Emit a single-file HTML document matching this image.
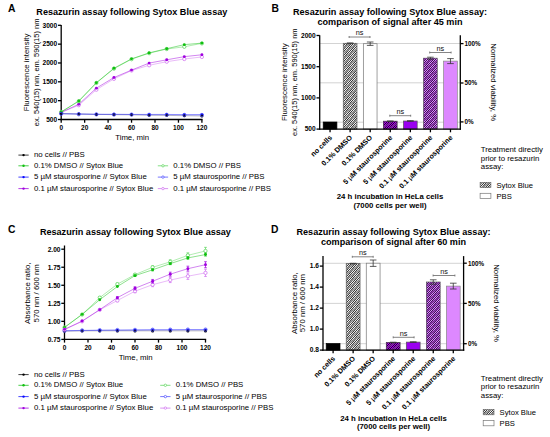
<!DOCTYPE html>
<html><head><meta charset="utf-8"><style>
html,body{margin:0;padding:0;background:#fff;}
body{width:550px;height:437px;overflow:hidden;}
svg{display:block;}
text{font-family:"Liberation Sans", sans-serif;}
</style></head><body>
<svg width="550" height="437" viewBox="0 0 550 437" font-family='"Liberation Sans", sans-serif'>
<defs><pattern id="hg" patternUnits="userSpaceOnUse" x="0" y="0" width="2" height="2"><rect width="2" height="2" fill="#f0f0f0"/><rect width="1" height="1" fill="#3a3a3a"/><rect x="1" y="1" width="1" height="1" fill="#3a3a3a"/></pattern><pattern id="hp" patternUnits="userSpaceOnUse" x="0" y="0" width="2" height="2"><rect width="2" height="2" fill="#a800ee"/><rect width="1" height="1" fill="#2a0038"/><rect x="1" y="1" width="1" height="1" fill="#2a0038"/></pattern><pattern id="hl" patternUnits="userSpaceOnUse" x="0" y="0" width="2" height="2"><rect width="2" height="2" fill="#dc88ff"/><rect width="1" height="1" fill="#3c1450"/><rect x="1" y="1" width="1" height="1" fill="#3c1450"/></pattern><pattern id="stripe" patternUnits="userSpaceOnUse" width="4.2" height="4.2" patternTransform="rotate(-34)"><rect width="4.2" height="1.7" fill="#8c8c8c" fill-opacity="0.9"/></pattern><pattern id="stripeD" patternUnits="userSpaceOnUse" width="4.2" height="4.2" patternTransform="rotate(-34)"><rect width="4.2" height="1.7" fill="#7a2a9a" fill-opacity="0.8"/></pattern></defs>
<rect width="550" height="437" fill="#fff"/>
<line x1="61.20" y1="25.00" x2="61.20" y2="120.15" stroke="#000" stroke-width="1.3"/>
<line x1="60.55" y1="119.50" x2="202.55" y2="119.50" stroke="#000" stroke-width="1.3"/>
<line x1="58.00" y1="119.50" x2="61.20" y2="119.50" stroke="#000" stroke-width="1.3"/>
<text x="57.20" y="121.85" font-size="6.6" font-weight="bold" text-anchor="end" fill="#000">500</text>
<line x1="58.00" y1="100.66" x2="61.20" y2="100.66" stroke="#000" stroke-width="1.3"/>
<text x="57.20" y="103.01" font-size="6.6" font-weight="bold" text-anchor="end" fill="#000">1000</text>
<line x1="58.00" y1="81.82" x2="61.20" y2="81.82" stroke="#000" stroke-width="1.3"/>
<text x="57.20" y="84.17" font-size="6.6" font-weight="bold" text-anchor="end" fill="#000">1500</text>
<line x1="58.00" y1="62.98" x2="61.20" y2="62.98" stroke="#000" stroke-width="1.3"/>
<text x="57.20" y="65.33" font-size="6.6" font-weight="bold" text-anchor="end" fill="#000">2000</text>
<line x1="58.00" y1="44.14" x2="61.20" y2="44.14" stroke="#000" stroke-width="1.3"/>
<text x="57.20" y="46.49" font-size="6.6" font-weight="bold" text-anchor="end" fill="#000">2500</text>
<line x1="58.00" y1="25.30" x2="61.20" y2="25.30" stroke="#000" stroke-width="1.3"/>
<text x="57.20" y="27.65" font-size="6.6" font-weight="bold" text-anchor="end" fill="#000">3000</text>
<line x1="61.20" y1="119.50" x2="61.20" y2="122.70" stroke="#000" stroke-width="1.3"/>
<text x="61.20" y="129.90" font-size="6.5" font-weight="bold" text-anchor="middle" fill="#000">0</text>
<line x1="84.65" y1="119.50" x2="84.65" y2="122.70" stroke="#000" stroke-width="1.3"/>
<text x="84.65" y="129.90" font-size="6.5" font-weight="bold" text-anchor="middle" fill="#000">20</text>
<line x1="108.10" y1="119.50" x2="108.10" y2="122.70" stroke="#000" stroke-width="1.3"/>
<text x="108.10" y="129.90" font-size="6.5" font-weight="bold" text-anchor="middle" fill="#000">40</text>
<line x1="131.55" y1="119.50" x2="131.55" y2="122.70" stroke="#000" stroke-width="1.3"/>
<text x="131.55" y="129.90" font-size="6.5" font-weight="bold" text-anchor="middle" fill="#000">60</text>
<line x1="155.00" y1="119.50" x2="155.00" y2="122.70" stroke="#000" stroke-width="1.3"/>
<text x="155.00" y="129.90" font-size="6.5" font-weight="bold" text-anchor="middle" fill="#000">80</text>
<line x1="178.45" y1="119.50" x2="178.45" y2="122.70" stroke="#000" stroke-width="1.3"/>
<text x="178.45" y="129.90" font-size="6.5" font-weight="bold" text-anchor="middle" fill="#000">100</text>
<line x1="201.90" y1="119.50" x2="201.90" y2="122.70" stroke="#000" stroke-width="1.3"/>
<text x="201.90" y="129.90" font-size="6.5" font-weight="bold" text-anchor="middle" fill="#000">120</text>
<path d="M61.20,112.53 L78.79,105.18 L96.38,89.73 L113.96,78.84 L131.55,70.52 L149.14,65.28 L166.72,61.70 L184.31,59.02 L201.90,56.95" fill="none" stroke="#d070f0" stroke-width="0.8" stroke-opacity="0.6" stroke-linejoin="round"/>
<circle cx="61.20" cy="112.53" r="1.65" fill="#fff" stroke="#d070f0" stroke-width="0.75"/>
<circle cx="78.79" cy="105.18" r="1.65" fill="#fff" stroke="#d070f0" stroke-width="0.75"/>
<circle cx="96.38" cy="89.73" r="1.65" fill="#fff" stroke="#d070f0" stroke-width="0.75"/>
<circle cx="113.96" cy="78.84" r="1.65" fill="#fff" stroke="#d070f0" stroke-width="0.75"/>
<circle cx="131.55" cy="70.52" r="1.65" fill="#fff" stroke="#d070f0" stroke-width="0.75"/>
<circle cx="149.14" cy="65.28" r="1.65" fill="#fff" stroke="#d070f0" stroke-width="0.75"/>
<circle cx="166.72" cy="61.70" r="1.65" fill="#fff" stroke="#d070f0" stroke-width="0.75"/>
<circle cx="184.31" cy="59.02" r="1.65" fill="#fff" stroke="#d070f0" stroke-width="0.75"/>
<circle cx="201.90" cy="56.95" r="1.65" fill="#fff" stroke="#d070f0" stroke-width="0.75"/>
<path d="M61.20,112.27 L78.79,104.31 L96.38,88.15 L113.96,77.56 L131.55,70.10 L149.14,63.09 L166.72,59.81 L184.31,56.65 L201.90,54.77" fill="none" stroke="#a000e0" stroke-width="0.8" stroke-opacity="0.6" stroke-linejoin="round"/>
<circle cx="61.20" cy="112.27" r="1.45" fill="#a000e0"/>
<circle cx="78.79" cy="104.31" r="1.45" fill="#a000e0"/>
<circle cx="96.38" cy="88.15" r="1.45" fill="#a000e0"/>
<circle cx="113.96" cy="77.56" r="1.45" fill="#a000e0"/>
<circle cx="131.55" cy="70.10" r="1.45" fill="#a000e0"/>
<circle cx="149.14" cy="63.09" r="1.45" fill="#a000e0"/>
<circle cx="166.72" cy="59.81" r="1.45" fill="#a000e0"/>
<circle cx="184.31" cy="56.65" r="1.45" fill="#a000e0"/>
<circle cx="201.90" cy="54.77" r="1.45" fill="#a000e0"/>
<path d="M61.20,111.96 L78.79,101.23 L96.38,82.95 L113.96,68.63 L131.55,59.21 L149.14,53.18 L166.72,49.04 L184.31,46.78 L201.90,43.39" fill="none" stroke="#5cd65c" stroke-width="0.8" stroke-opacity="0.6" stroke-linejoin="round"/>
<circle cx="61.20" cy="111.96" r="1.65" fill="#fff" stroke="#5cd65c" stroke-width="0.75"/>
<circle cx="78.79" cy="101.23" r="1.65" fill="#fff" stroke="#5cd65c" stroke-width="0.75"/>
<circle cx="96.38" cy="82.95" r="1.65" fill="#fff" stroke="#5cd65c" stroke-width="0.75"/>
<circle cx="113.96" cy="68.63" r="1.65" fill="#fff" stroke="#5cd65c" stroke-width="0.75"/>
<circle cx="131.55" cy="59.21" r="1.65" fill="#fff" stroke="#5cd65c" stroke-width="0.75"/>
<circle cx="149.14" cy="53.18" r="1.65" fill="#fff" stroke="#5cd65c" stroke-width="0.75"/>
<circle cx="166.72" cy="49.04" r="1.65" fill="#fff" stroke="#5cd65c" stroke-width="0.75"/>
<circle cx="184.31" cy="46.78" r="1.65" fill="#fff" stroke="#5cd65c" stroke-width="0.75"/>
<circle cx="201.90" cy="43.39" r="1.65" fill="#fff" stroke="#5cd65c" stroke-width="0.75"/>
<path d="M61.20,111.96 L78.79,100.96 L96.38,82.72 L113.96,68.26 L131.55,58.84 L149.14,52.88 L166.72,48.70 L184.31,44.63 L201.90,43.12" fill="none" stroke="#10c010" stroke-width="0.8" stroke-opacity="0.6" stroke-linejoin="round"/>
<circle cx="61.20" cy="111.96" r="1.45" fill="#10c010"/>
<circle cx="78.79" cy="100.96" r="1.45" fill="#10c010"/>
<circle cx="96.38" cy="82.72" r="1.45" fill="#10c010"/>
<circle cx="113.96" cy="68.26" r="1.45" fill="#10c010"/>
<circle cx="131.55" cy="58.84" r="1.45" fill="#10c010"/>
<circle cx="149.14" cy="52.88" r="1.45" fill="#10c010"/>
<circle cx="166.72" cy="48.70" r="1.45" fill="#10c010"/>
<circle cx="184.31" cy="44.63" r="1.45" fill="#10c010"/>
<circle cx="201.90" cy="43.12" r="1.45" fill="#10c010"/>
<path d="M61.20,113.47 L78.79,113.85 L96.38,114.22 L113.96,114.22 L131.55,114.41 L149.14,114.41 L166.72,114.41 L184.31,114.60 L201.90,114.60" fill="none" stroke="#0a0aff" stroke-width="0.8" stroke-opacity="0.45" stroke-linejoin="round"/>
<circle cx="61.20" cy="113.47" r="1.45" fill="#0a0aff"/>
<circle cx="78.79" cy="113.85" r="1.45" fill="#0a0aff"/>
<circle cx="96.38" cy="114.22" r="1.45" fill="#0a0aff"/>
<circle cx="113.96" cy="114.22" r="1.45" fill="#0a0aff"/>
<circle cx="131.55" cy="114.41" r="1.45" fill="#0a0aff"/>
<circle cx="149.14" cy="114.41" r="1.45" fill="#0a0aff"/>
<circle cx="166.72" cy="114.41" r="1.45" fill="#0a0aff"/>
<circle cx="184.31" cy="114.60" r="1.45" fill="#0a0aff"/>
<circle cx="201.90" cy="114.60" r="1.45" fill="#0a0aff"/>
<path d="M61.20,113.66 L78.79,114.04 L96.38,114.41 L113.96,114.60 L131.55,114.79 L149.14,115.17 L166.72,115.36 L184.31,115.73 L201.90,116.00" fill="none" stroke="#000" stroke-width="0.8" stroke-opacity="0.3" stroke-linejoin="round"/>
<circle cx="61.20" cy="113.66" r="1.5" fill="#000"/>
<circle cx="78.79" cy="114.04" r="1.5" fill="#000"/>
<circle cx="96.38" cy="114.41" r="1.5" fill="#000"/>
<circle cx="113.96" cy="114.60" r="1.5" fill="#000"/>
<circle cx="131.55" cy="114.79" r="1.5" fill="#000"/>
<circle cx="149.14" cy="115.17" r="1.5" fill="#000"/>
<circle cx="166.72" cy="115.36" r="1.5" fill="#000"/>
<circle cx="184.31" cy="115.73" r="1.5" fill="#000"/>
<circle cx="201.90" cy="116.00" r="1.5" fill="#000"/>
<path d="M61.20,113.85 L78.79,114.22 L96.38,114.41 L113.96,114.60 L131.55,114.60 L149.14,114.79 L166.72,114.79 L184.31,114.98 L201.90,114.98" fill="none" stroke="#4a4aff" stroke-width="0.8" stroke-opacity="0.6" stroke-linejoin="round"/>
<circle cx="61.20" cy="113.85" r="1.65" fill="none" stroke="#4a4aff" stroke-width="0.75"/>
<circle cx="78.79" cy="114.22" r="1.65" fill="none" stroke="#4a4aff" stroke-width="0.75"/>
<circle cx="96.38" cy="114.41" r="1.65" fill="none" stroke="#4a4aff" stroke-width="0.75"/>
<circle cx="113.96" cy="114.60" r="1.65" fill="none" stroke="#4a4aff" stroke-width="0.75"/>
<circle cx="131.55" cy="114.60" r="1.65" fill="none" stroke="#4a4aff" stroke-width="0.75"/>
<circle cx="149.14" cy="114.79" r="1.65" fill="none" stroke="#4a4aff" stroke-width="0.75"/>
<circle cx="166.72" cy="114.79" r="1.65" fill="none" stroke="#4a4aff" stroke-width="0.75"/>
<circle cx="184.31" cy="114.98" r="1.65" fill="none" stroke="#4a4aff" stroke-width="0.75"/>
<circle cx="201.90" cy="114.98" r="1.65" fill="none" stroke="#4a4aff" stroke-width="0.75"/>
<text x="132.15" y="139.60" font-size="7.8" font-weight="normal" text-anchor="middle" fill="#000">Time, min</text>
<text x="29.00" y="72.40" font-size="7.8" font-weight="normal" text-anchor="middle" fill="#000" transform="rotate(-90 29.0 72.4)">Fluorescence intensity</text>
<text x="38.60" y="72.40" font-size="7.5" font-weight="normal" text-anchor="middle" fill="#000" transform="rotate(-90 38.6 72.4)">ex. 540(15) nm, em. 590(15) nm</text>
<text x="131.85" y="14.50" font-size="9.1" font-weight="bold" text-anchor="middle" fill="#000">Resazurin assay following Sytox Blue assay</text>
<text x="8.00" y="11.80" font-size="10.3" font-weight="bold" text-anchor="start" fill="#000">A</text>
<line x1="18.40" y1="155.10" x2="28.70" y2="155.10" stroke="#000" stroke-width="1.0" opacity="0.75"/>
<circle cx="23.55" cy="155.10" r="1.2" fill="#000"/>
<text x="33.90" y="157.20" font-size="7.8" font-weight="normal" text-anchor="start" fill="#000">no cells // PBS</text>
<line x1="18.40" y1="165.80" x2="28.70" y2="165.80" stroke="#10c010" stroke-width="1.0" opacity="0.75"/>
<circle cx="23.55" cy="165.80" r="1.2" fill="#10c010"/>
<text x="33.90" y="167.90" font-size="7.8" font-weight="normal" text-anchor="start" fill="#000">0.1% DMSO // Sytox Blue</text>
<line x1="18.40" y1="177.10" x2="28.70" y2="177.10" stroke="#0a0aff" stroke-width="1.0" opacity="0.75"/>
<circle cx="23.55" cy="177.10" r="1.2" fill="#0a0aff"/>
<text x="33.90" y="179.20" font-size="7.8" font-weight="normal" text-anchor="start" fill="#000">5 µM staurosporine // Sytox Blue</text>
<line x1="18.40" y1="188.60" x2="28.70" y2="188.60" stroke="#a000e0" stroke-width="1.0" opacity="0.75"/>
<circle cx="23.55" cy="188.60" r="1.2" fill="#a000e0"/>
<text x="33.90" y="190.70" font-size="7.8" font-weight="normal" text-anchor="start" fill="#000">0.1 µM staurosporine // Sytox Blue</text>
<line x1="157.80" y1="165.80" x2="168.10" y2="165.80" stroke="#5cd65c" stroke-width="1.0" opacity="0.75"/>
<circle cx="162.95" cy="165.80" r="1.2" fill="#fff" stroke="#5cd65c" stroke-width="0.7"/>
<text x="173.30" y="167.90" font-size="7.8" font-weight="normal" text-anchor="start" fill="#000">0.1% DMSO // PBS</text>
<line x1="157.80" y1="177.10" x2="168.10" y2="177.10" stroke="#4a4aff" stroke-width="1.0" opacity="0.75"/>
<circle cx="162.95" cy="177.10" r="1.2" fill="#fff" stroke="#4a4aff" stroke-width="0.7"/>
<text x="173.30" y="179.20" font-size="7.8" font-weight="normal" text-anchor="start" fill="#000">5 µM staurosporine // PBS</text>
<line x1="157.80" y1="188.60" x2="168.10" y2="188.60" stroke="#d070f0" stroke-width="1.0" opacity="0.75"/>
<circle cx="162.95" cy="188.60" r="1.2" fill="#fff" stroke="#d070f0" stroke-width="0.7"/>
<text x="173.30" y="190.70" font-size="7.8" font-weight="normal" text-anchor="start" fill="#000">0.1 µM staurosporine // PBS</text>
<line x1="64.50" y1="245.50" x2="64.50" y2="340.05" stroke="#000" stroke-width="1.3"/>
<line x1="63.85" y1="339.40" x2="206.15" y2="339.40" stroke="#000" stroke-width="1.3"/>
<line x1="61.30" y1="339.40" x2="64.50" y2="339.40" stroke="#000" stroke-width="1.3"/>
<text x="60.50" y="341.75" font-size="6.6" font-weight="bold" text-anchor="end" fill="#000">0.75</text>
<line x1="61.30" y1="321.36" x2="64.50" y2="321.36" stroke="#000" stroke-width="1.3"/>
<text x="60.50" y="323.71" font-size="6.6" font-weight="bold" text-anchor="end" fill="#000">1.00</text>
<line x1="61.30" y1="303.32" x2="64.50" y2="303.32" stroke="#000" stroke-width="1.3"/>
<text x="60.50" y="305.67" font-size="6.6" font-weight="bold" text-anchor="end" fill="#000">1.25</text>
<line x1="61.30" y1="285.28" x2="64.50" y2="285.28" stroke="#000" stroke-width="1.3"/>
<text x="60.50" y="287.63" font-size="6.6" font-weight="bold" text-anchor="end" fill="#000">1.50</text>
<line x1="61.30" y1="267.24" x2="64.50" y2="267.24" stroke="#000" stroke-width="1.3"/>
<text x="60.50" y="269.59" font-size="6.6" font-weight="bold" text-anchor="end" fill="#000">1.75</text>
<line x1="61.30" y1="249.20" x2="64.50" y2="249.20" stroke="#000" stroke-width="1.3"/>
<text x="60.50" y="251.55" font-size="6.6" font-weight="bold" text-anchor="end" fill="#000">2.00</text>
<line x1="64.50" y1="339.40" x2="64.50" y2="342.60" stroke="#000" stroke-width="1.3"/>
<text x="64.50" y="349.80" font-size="6.5" font-weight="bold" text-anchor="middle" fill="#000">0</text>
<line x1="88.00" y1="339.40" x2="88.00" y2="342.60" stroke="#000" stroke-width="1.3"/>
<text x="88.00" y="349.80" font-size="6.5" font-weight="bold" text-anchor="middle" fill="#000">20</text>
<line x1="111.50" y1="339.40" x2="111.50" y2="342.60" stroke="#000" stroke-width="1.3"/>
<text x="111.50" y="349.80" font-size="6.5" font-weight="bold" text-anchor="middle" fill="#000">40</text>
<line x1="135.00" y1="339.40" x2="135.00" y2="342.60" stroke="#000" stroke-width="1.3"/>
<text x="135.00" y="349.80" font-size="6.5" font-weight="bold" text-anchor="middle" fill="#000">60</text>
<line x1="158.50" y1="339.40" x2="158.50" y2="342.60" stroke="#000" stroke-width="1.3"/>
<text x="158.50" y="349.80" font-size="6.5" font-weight="bold" text-anchor="middle" fill="#000">80</text>
<line x1="182.00" y1="339.40" x2="182.00" y2="342.60" stroke="#000" stroke-width="1.3"/>
<text x="182.00" y="349.80" font-size="6.5" font-weight="bold" text-anchor="middle" fill="#000">100</text>
<line x1="205.50" y1="339.40" x2="205.50" y2="342.60" stroke="#000" stroke-width="1.3"/>
<text x="205.50" y="349.80" font-size="6.5" font-weight="bold" text-anchor="middle" fill="#000">120</text>
<path d="M64.50,330.89 L82.12,330.60 L99.75,330.38 L117.38,330.31 L135.00,330.16 L152.62,330.02 L170.25,330.02 L187.88,329.87 L205.50,329.87" fill="none" stroke="#0a0aff" stroke-width="0.8" stroke-opacity="0.45" stroke-linejoin="round"/>
<circle cx="64.50" cy="330.89" r="1.45" fill="#0a0aff"/>
<circle cx="82.12" cy="330.60" r="1.45" fill="#0a0aff"/>
<circle cx="99.75" cy="330.38" r="1.45" fill="#0a0aff"/>
<circle cx="117.38" cy="330.31" r="1.45" fill="#0a0aff"/>
<circle cx="135.00" cy="330.16" r="1.45" fill="#0a0aff"/>
<circle cx="152.62" cy="330.02" r="1.45" fill="#0a0aff"/>
<circle cx="170.25" cy="330.02" r="1.45" fill="#0a0aff"/>
<circle cx="187.88" cy="329.87" r="1.45" fill="#0a0aff"/>
<circle cx="205.50" cy="329.87" r="1.45" fill="#0a0aff"/>
<path d="M64.50,331.10 L82.12,330.89 L99.75,330.89 L117.38,330.89 L135.00,330.89 L152.62,330.89 L170.25,330.89 L187.88,330.89 L205.50,330.89" fill="none" stroke="#000" stroke-width="0.8" stroke-opacity="0.3" stroke-linejoin="round"/>
<circle cx="64.50" cy="331.10" r="1.5" fill="#000"/>
<circle cx="82.12" cy="330.89" r="1.5" fill="#000"/>
<circle cx="99.75" cy="330.89" r="1.5" fill="#000"/>
<circle cx="117.38" cy="330.89" r="1.5" fill="#000"/>
<circle cx="135.00" cy="330.89" r="1.5" fill="#000"/>
<circle cx="152.62" cy="330.89" r="1.5" fill="#000"/>
<circle cx="170.25" cy="330.89" r="1.5" fill="#000"/>
<circle cx="187.88" cy="330.89" r="1.5" fill="#000"/>
<circle cx="205.50" cy="330.89" r="1.5" fill="#000"/>
<path d="M64.50,330.74 L82.12,330.38 L99.75,330.16 L117.38,330.02 L135.00,329.87 L152.62,329.73 L170.25,329.66 L187.88,329.59 L205.50,329.59" fill="none" stroke="#4a4aff" stroke-width="0.8" stroke-opacity="0.6" stroke-linejoin="round"/>
<circle cx="64.50" cy="330.74" r="1.65" fill="none" stroke="#4a4aff" stroke-width="0.75"/>
<circle cx="82.12" cy="330.38" r="1.65" fill="none" stroke="#4a4aff" stroke-width="0.75"/>
<circle cx="99.75" cy="330.16" r="1.65" fill="none" stroke="#4a4aff" stroke-width="0.75"/>
<circle cx="117.38" cy="330.02" r="1.65" fill="none" stroke="#4a4aff" stroke-width="0.75"/>
<circle cx="135.00" cy="329.87" r="1.65" fill="none" stroke="#4a4aff" stroke-width="0.75"/>
<circle cx="152.62" cy="329.73" r="1.65" fill="none" stroke="#4a4aff" stroke-width="0.75"/>
<circle cx="170.25" cy="329.66" r="1.65" fill="none" stroke="#4a4aff" stroke-width="0.75"/>
<circle cx="187.88" cy="329.59" r="1.65" fill="none" stroke="#4a4aff" stroke-width="0.75"/>
<circle cx="205.50" cy="329.59" r="1.65" fill="none" stroke="#4a4aff" stroke-width="0.75"/>
<path d="M64.50,327.49 L82.12,314.50 L99.75,297.62 L117.38,284.13 L135.00,274.60 L152.62,267.31 L170.25,261.83 L187.88,255.33 L205.50,250.93" fill="none" stroke="#5cd65c" stroke-width="0.8" stroke-opacity="0.6" stroke-linejoin="round"/>
<line x1="99.75" y1="296.82" x2="99.75" y2="298.42" stroke="#5cd65c" stroke-width="0.7"/>
<line x1="98.35" y1="296.82" x2="101.15" y2="296.82" stroke="#5cd65c" stroke-width="0.7"/>
<line x1="98.35" y1="298.42" x2="101.15" y2="298.42" stroke="#5cd65c" stroke-width="0.7"/>
<line x1="117.38" y1="283.13" x2="117.38" y2="285.13" stroke="#5cd65c" stroke-width="0.7"/>
<line x1="115.97" y1="283.13" x2="118.78" y2="283.13" stroke="#5cd65c" stroke-width="0.7"/>
<line x1="115.97" y1="285.13" x2="118.78" y2="285.13" stroke="#5cd65c" stroke-width="0.7"/>
<line x1="135.00" y1="273.60" x2="135.00" y2="275.60" stroke="#5cd65c" stroke-width="0.7"/>
<line x1="133.60" y1="273.60" x2="136.40" y2="273.60" stroke="#5cd65c" stroke-width="0.7"/>
<line x1="133.60" y1="275.60" x2="136.40" y2="275.60" stroke="#5cd65c" stroke-width="0.7"/>
<line x1="152.62" y1="265.81" x2="152.62" y2="268.81" stroke="#5cd65c" stroke-width="0.7"/>
<line x1="151.22" y1="265.81" x2="154.03" y2="265.81" stroke="#5cd65c" stroke-width="0.7"/>
<line x1="151.22" y1="268.81" x2="154.03" y2="268.81" stroke="#5cd65c" stroke-width="0.7"/>
<line x1="170.25" y1="259.83" x2="170.25" y2="263.83" stroke="#5cd65c" stroke-width="0.7"/>
<line x1="168.85" y1="259.83" x2="171.65" y2="259.83" stroke="#5cd65c" stroke-width="0.7"/>
<line x1="168.85" y1="263.83" x2="171.65" y2="263.83" stroke="#5cd65c" stroke-width="0.7"/>
<line x1="187.88" y1="252.83" x2="187.88" y2="257.83" stroke="#5cd65c" stroke-width="0.7"/>
<line x1="186.47" y1="252.83" x2="189.28" y2="252.83" stroke="#5cd65c" stroke-width="0.7"/>
<line x1="186.47" y1="257.83" x2="189.28" y2="257.83" stroke="#5cd65c" stroke-width="0.7"/>
<line x1="205.50" y1="247.33" x2="205.50" y2="254.53" stroke="#5cd65c" stroke-width="0.7"/>
<line x1="204.10" y1="247.33" x2="206.90" y2="247.33" stroke="#5cd65c" stroke-width="0.7"/>
<line x1="204.10" y1="254.53" x2="206.90" y2="254.53" stroke="#5cd65c" stroke-width="0.7"/>
<circle cx="64.50" cy="327.49" r="1.65" fill="#fff" stroke="#5cd65c" stroke-width="0.75"/>
<circle cx="82.12" cy="314.50" r="1.65" fill="#fff" stroke="#5cd65c" stroke-width="0.75"/>
<circle cx="99.75" cy="297.62" r="1.65" fill="#fff" stroke="#5cd65c" stroke-width="0.75"/>
<circle cx="117.38" cy="284.13" r="1.65" fill="#fff" stroke="#5cd65c" stroke-width="0.75"/>
<circle cx="135.00" cy="274.60" r="1.65" fill="#fff" stroke="#5cd65c" stroke-width="0.75"/>
<circle cx="152.62" cy="267.31" r="1.65" fill="#fff" stroke="#5cd65c" stroke-width="0.75"/>
<circle cx="170.25" cy="261.83" r="1.65" fill="#fff" stroke="#5cd65c" stroke-width="0.75"/>
<circle cx="187.88" cy="255.33" r="1.65" fill="#fff" stroke="#5cd65c" stroke-width="0.75"/>
<circle cx="205.50" cy="250.93" r="1.65" fill="#fff" stroke="#5cd65c" stroke-width="0.75"/>
<path d="M64.50,327.35 L82.12,314.36 L99.75,299.71 L117.38,286.51 L135.00,275.61 L152.62,269.84 L170.25,263.63 L187.88,257.93 L205.50,254.54" fill="none" stroke="#10c010" stroke-width="0.8" stroke-opacity="0.6" stroke-linejoin="round"/>
<line x1="135.00" y1="274.81" x2="135.00" y2="276.41" stroke="#10c010" stroke-width="0.7"/>
<line x1="133.60" y1="274.81" x2="136.40" y2="274.81" stroke="#10c010" stroke-width="0.7"/>
<line x1="133.60" y1="276.41" x2="136.40" y2="276.41" stroke="#10c010" stroke-width="0.7"/>
<line x1="152.62" y1="268.84" x2="152.62" y2="270.84" stroke="#10c010" stroke-width="0.7"/>
<line x1="151.22" y1="268.84" x2="154.03" y2="268.84" stroke="#10c010" stroke-width="0.7"/>
<line x1="151.22" y1="270.84" x2="154.03" y2="270.84" stroke="#10c010" stroke-width="0.7"/>
<line x1="170.25" y1="262.63" x2="170.25" y2="264.63" stroke="#10c010" stroke-width="0.7"/>
<line x1="168.85" y1="262.63" x2="171.65" y2="262.63" stroke="#10c010" stroke-width="0.7"/>
<line x1="168.85" y1="264.63" x2="171.65" y2="264.63" stroke="#10c010" stroke-width="0.7"/>
<line x1="187.88" y1="256.73" x2="187.88" y2="259.13" stroke="#10c010" stroke-width="0.7"/>
<line x1="186.47" y1="256.73" x2="189.28" y2="256.73" stroke="#10c010" stroke-width="0.7"/>
<line x1="186.47" y1="259.13" x2="189.28" y2="259.13" stroke="#10c010" stroke-width="0.7"/>
<line x1="205.50" y1="253.04" x2="205.50" y2="256.04" stroke="#10c010" stroke-width="0.7"/>
<line x1="204.10" y1="253.04" x2="206.90" y2="253.04" stroke="#10c010" stroke-width="0.7"/>
<line x1="204.10" y1="256.04" x2="206.90" y2="256.04" stroke="#10c010" stroke-width="0.7"/>
<circle cx="64.50" cy="327.35" r="1.45" fill="#10c010"/>
<circle cx="82.12" cy="314.36" r="1.45" fill="#10c010"/>
<circle cx="99.75" cy="299.71" r="1.45" fill="#10c010"/>
<circle cx="117.38" cy="286.51" r="1.45" fill="#10c010"/>
<circle cx="135.00" cy="275.61" r="1.45" fill="#10c010"/>
<circle cx="152.62" cy="269.84" r="1.45" fill="#10c010"/>
<circle cx="170.25" cy="263.63" r="1.45" fill="#10c010"/>
<circle cx="187.88" cy="257.93" r="1.45" fill="#10c010"/>
<circle cx="205.50" cy="254.54" r="1.45" fill="#10c010"/>
<path d="M64.50,329.66 L82.12,321.36 L99.75,309.81 L117.38,300.51 L135.00,291.20 L152.62,284.70 L170.25,280.08 L187.88,276.19 L205.50,272.87" fill="none" stroke="#d070f0" stroke-width="0.8" stroke-opacity="0.6" stroke-linejoin="round"/>
<line x1="99.75" y1="309.01" x2="99.75" y2="310.61" stroke="#d070f0" stroke-width="0.7"/>
<line x1="98.35" y1="309.01" x2="101.15" y2="309.01" stroke="#d070f0" stroke-width="0.7"/>
<line x1="98.35" y1="310.61" x2="101.15" y2="310.61" stroke="#d070f0" stroke-width="0.7"/>
<line x1="117.38" y1="299.31" x2="117.38" y2="301.71" stroke="#d070f0" stroke-width="0.7"/>
<line x1="115.97" y1="299.31" x2="118.78" y2="299.31" stroke="#d070f0" stroke-width="0.7"/>
<line x1="115.97" y1="301.71" x2="118.78" y2="301.71" stroke="#d070f0" stroke-width="0.7"/>
<line x1="135.00" y1="289.70" x2="135.00" y2="292.70" stroke="#d070f0" stroke-width="0.7"/>
<line x1="133.60" y1="289.70" x2="136.40" y2="289.70" stroke="#d070f0" stroke-width="0.7"/>
<line x1="133.60" y1="292.70" x2="136.40" y2="292.70" stroke="#d070f0" stroke-width="0.7"/>
<line x1="152.62" y1="282.70" x2="152.62" y2="286.70" stroke="#d070f0" stroke-width="0.7"/>
<line x1="151.22" y1="282.70" x2="154.03" y2="282.70" stroke="#d070f0" stroke-width="0.7"/>
<line x1="151.22" y1="286.70" x2="154.03" y2="286.70" stroke="#d070f0" stroke-width="0.7"/>
<line x1="170.25" y1="277.58" x2="170.25" y2="282.58" stroke="#d070f0" stroke-width="0.7"/>
<line x1="168.85" y1="277.58" x2="171.65" y2="277.58" stroke="#d070f0" stroke-width="0.7"/>
<line x1="168.85" y1="282.58" x2="171.65" y2="282.58" stroke="#d070f0" stroke-width="0.7"/>
<line x1="187.88" y1="272.99" x2="187.88" y2="279.39" stroke="#d070f0" stroke-width="0.7"/>
<line x1="186.47" y1="272.99" x2="189.28" y2="272.99" stroke="#d070f0" stroke-width="0.7"/>
<line x1="186.47" y1="279.39" x2="189.28" y2="279.39" stroke="#d070f0" stroke-width="0.7"/>
<line x1="205.50" y1="269.27" x2="205.50" y2="276.47" stroke="#d070f0" stroke-width="0.7"/>
<line x1="204.10" y1="269.27" x2="206.90" y2="269.27" stroke="#d070f0" stroke-width="0.7"/>
<line x1="204.10" y1="276.47" x2="206.90" y2="276.47" stroke="#d070f0" stroke-width="0.7"/>
<circle cx="64.50" cy="329.66" r="1.65" fill="#fff" stroke="#d070f0" stroke-width="0.75"/>
<circle cx="82.12" cy="321.36" r="1.65" fill="#fff" stroke="#d070f0" stroke-width="0.75"/>
<circle cx="99.75" cy="309.81" r="1.65" fill="#fff" stroke="#d070f0" stroke-width="0.75"/>
<circle cx="117.38" cy="300.51" r="1.65" fill="#fff" stroke="#d070f0" stroke-width="0.75"/>
<circle cx="135.00" cy="291.20" r="1.65" fill="#fff" stroke="#d070f0" stroke-width="0.75"/>
<circle cx="152.62" cy="284.70" r="1.65" fill="#fff" stroke="#d070f0" stroke-width="0.75"/>
<circle cx="170.25" cy="280.08" r="1.65" fill="#fff" stroke="#d070f0" stroke-width="0.75"/>
<circle cx="187.88" cy="276.19" r="1.65" fill="#fff" stroke="#d070f0" stroke-width="0.75"/>
<circle cx="205.50" cy="272.87" r="1.65" fill="#fff" stroke="#d070f0" stroke-width="0.75"/>
<path d="M64.50,329.37 L82.12,321.07 L99.75,309.67 L117.38,297.69 L135.00,288.31 L152.62,281.24 L170.25,274.17 L187.88,268.68 L205.50,264.71" fill="none" stroke="#a000e0" stroke-width="0.8" stroke-opacity="0.6" stroke-linejoin="round"/>
<line x1="117.38" y1="296.69" x2="117.38" y2="298.69" stroke="#a000e0" stroke-width="0.7"/>
<line x1="115.97" y1="296.69" x2="118.78" y2="296.69" stroke="#a000e0" stroke-width="0.7"/>
<line x1="115.97" y1="298.69" x2="118.78" y2="298.69" stroke="#a000e0" stroke-width="0.7"/>
<line x1="135.00" y1="286.81" x2="135.00" y2="289.81" stroke="#a000e0" stroke-width="0.7"/>
<line x1="133.60" y1="286.81" x2="136.40" y2="286.81" stroke="#a000e0" stroke-width="0.7"/>
<line x1="133.60" y1="289.81" x2="136.40" y2="289.81" stroke="#a000e0" stroke-width="0.7"/>
<line x1="152.62" y1="279.44" x2="152.62" y2="283.04" stroke="#a000e0" stroke-width="0.7"/>
<line x1="151.22" y1="279.44" x2="154.03" y2="279.44" stroke="#a000e0" stroke-width="0.7"/>
<line x1="151.22" y1="283.04" x2="154.03" y2="283.04" stroke="#a000e0" stroke-width="0.7"/>
<line x1="170.25" y1="272.17" x2="170.25" y2="276.17" stroke="#a000e0" stroke-width="0.7"/>
<line x1="168.85" y1="272.17" x2="171.65" y2="272.17" stroke="#a000e0" stroke-width="0.7"/>
<line x1="168.85" y1="276.17" x2="171.65" y2="276.17" stroke="#a000e0" stroke-width="0.7"/>
<line x1="187.88" y1="266.18" x2="187.88" y2="271.18" stroke="#a000e0" stroke-width="0.7"/>
<line x1="186.47" y1="266.18" x2="189.28" y2="266.18" stroke="#a000e0" stroke-width="0.7"/>
<line x1="186.47" y1="271.18" x2="189.28" y2="271.18" stroke="#a000e0" stroke-width="0.7"/>
<line x1="205.50" y1="261.71" x2="205.50" y2="267.71" stroke="#a000e0" stroke-width="0.7"/>
<line x1="204.10" y1="261.71" x2="206.90" y2="261.71" stroke="#a000e0" stroke-width="0.7"/>
<line x1="204.10" y1="267.71" x2="206.90" y2="267.71" stroke="#a000e0" stroke-width="0.7"/>
<circle cx="64.50" cy="329.37" r="1.45" fill="#a000e0"/>
<circle cx="82.12" cy="321.07" r="1.45" fill="#a000e0"/>
<circle cx="99.75" cy="309.67" r="1.45" fill="#a000e0"/>
<circle cx="117.38" cy="297.69" r="1.45" fill="#a000e0"/>
<circle cx="135.00" cy="288.31" r="1.45" fill="#a000e0"/>
<circle cx="152.62" cy="281.24" r="1.45" fill="#a000e0"/>
<circle cx="170.25" cy="274.17" r="1.45" fill="#a000e0"/>
<circle cx="187.88" cy="268.68" r="1.45" fill="#a000e0"/>
<circle cx="205.50" cy="264.71" r="1.45" fill="#a000e0"/>
<text x="135.60" y="359.80" font-size="7.8" font-weight="normal" text-anchor="middle" fill="#000">Time, min</text>
<text x="30.00" y="293.30" font-size="7.85" font-weight="normal" text-anchor="middle" fill="#000" transform="rotate(-90 30.0 293.3)">Absorbance ratio,</text>
<text x="39.00" y="293.30" font-size="7.75" font-weight="normal" text-anchor="middle" fill="#000" transform="rotate(-90 39.0 293.3)">570 nm / 600 nm</text>
<text x="135.40" y="234.60" font-size="9.1" font-weight="bold" text-anchor="middle" fill="#000">Resazurin assay following Sytox Blue assay</text>
<text x="8.00" y="232.80" font-size="10.3" font-weight="bold" text-anchor="start" fill="#000">C</text>
<line x1="18.40" y1="374.60" x2="28.70" y2="374.60" stroke="#000" stroke-width="1.0" opacity="0.75"/>
<circle cx="23.55" cy="374.60" r="1.2" fill="#000"/>
<text x="33.90" y="376.70" font-size="7.8" font-weight="normal" text-anchor="start" fill="#000">no cells // PBS</text>
<line x1="18.40" y1="385.30" x2="28.70" y2="385.30" stroke="#10c010" stroke-width="1.0" opacity="0.75"/>
<circle cx="23.55" cy="385.30" r="1.2" fill="#10c010"/>
<text x="33.90" y="387.40" font-size="7.8" font-weight="normal" text-anchor="start" fill="#000">0.1% DMSO // Sytox Blue</text>
<line x1="18.40" y1="396.60" x2="28.70" y2="396.60" stroke="#0a0aff" stroke-width="1.0" opacity="0.75"/>
<circle cx="23.55" cy="396.60" r="1.2" fill="#0a0aff"/>
<text x="33.90" y="398.70" font-size="7.8" font-weight="normal" text-anchor="start" fill="#000">5 µM staurosporine // Sytox Blue</text>
<line x1="18.40" y1="408.10" x2="28.70" y2="408.10" stroke="#a000e0" stroke-width="1.0" opacity="0.75"/>
<circle cx="23.55" cy="408.10" r="1.2" fill="#a000e0"/>
<text x="33.90" y="410.20" font-size="7.8" font-weight="normal" text-anchor="start" fill="#000">0.1 µM staurosporine // Sytox Blue</text>
<line x1="160.20" y1="385.30" x2="170.50" y2="385.30" stroke="#5cd65c" stroke-width="1.0" opacity="0.75"/>
<circle cx="165.35" cy="385.30" r="1.2" fill="#fff" stroke="#5cd65c" stroke-width="0.7"/>
<text x="175.70" y="387.40" font-size="7.8" font-weight="normal" text-anchor="start" fill="#000">0.1% DMSO // PBS</text>
<line x1="160.20" y1="396.60" x2="170.50" y2="396.60" stroke="#4a4aff" stroke-width="1.0" opacity="0.75"/>
<circle cx="165.35" cy="396.60" r="1.2" fill="#fff" stroke="#4a4aff" stroke-width="0.7"/>
<text x="175.70" y="398.70" font-size="7.8" font-weight="normal" text-anchor="start" fill="#000">5 µM staurosporine // PBS</text>
<line x1="160.20" y1="408.10" x2="170.50" y2="408.10" stroke="#d070f0" stroke-width="1.0" opacity="0.75"/>
<circle cx="165.35" cy="408.10" r="1.2" fill="#fff" stroke="#d070f0" stroke-width="0.7"/>
<text x="175.70" y="410.20" font-size="7.8" font-weight="normal" text-anchor="start" fill="#000">0.1 µM staurosporine // PBS</text>
<line x1="319.70" y1="43.50" x2="460.30" y2="43.50" stroke="#c8c8c8" stroke-width="0.8"/>
<line x1="319.70" y1="82.80" x2="460.30" y2="82.80" stroke="#c8c8c8" stroke-width="0.8"/>
<line x1="319.70" y1="122.20" x2="460.30" y2="122.20" stroke="#c8c8c8" stroke-width="0.8"/>
<rect x="323.20" y="122.00" width="13.70" height="7.10" fill="#000" stroke="#000" stroke-width="0.7"/>
<rect x="343.27" y="43.30" width="13.70" height="85.80" fill="url(#hg)" stroke="#555" stroke-width="0.7"/>
<rect x="343.27" y="43.30" width="13.70" height="85.80" fill="url(#stripe)"/>
<line x1="350.12" y1="42.90" x2="350.12" y2="43.70" stroke="#333" stroke-width="0.8"/>
<line x1="346.82" y1="42.90" x2="353.42" y2="42.90" stroke="#333" stroke-width="0.8"/>
<line x1="346.82" y1="43.70" x2="353.42" y2="43.70" stroke="#333" stroke-width="0.8"/>
<rect x="363.34" y="43.70" width="13.70" height="85.40" fill="#fff" stroke="#777" stroke-width="0.7"/>
<line x1="370.19" y1="42.00" x2="370.19" y2="45.40" stroke="#333" stroke-width="0.8"/>
<line x1="366.89" y1="42.00" x2="373.49" y2="42.00" stroke="#333" stroke-width="0.8"/>
<line x1="366.89" y1="45.40" x2="373.49" y2="45.40" stroke="#333" stroke-width="0.8"/>
<rect x="383.41" y="121.20" width="13.70" height="7.90" fill="url(#hp)" stroke="#333" stroke-width="0.7"/>
<rect x="383.41" y="121.20" width="13.70" height="7.90" fill="url(#stripeD)"/>
<line x1="390.26" y1="120.90" x2="390.26" y2="121.50" stroke="#333" stroke-width="0.8"/>
<line x1="386.96" y1="120.90" x2="393.56" y2="120.90" stroke="#333" stroke-width="0.8"/>
<line x1="386.96" y1="121.50" x2="393.56" y2="121.50" stroke="#333" stroke-width="0.8"/>
<rect x="403.48" y="121.00" width="13.70" height="8.10" fill="#9a00f0" stroke="#555" stroke-width="0.7"/>
<line x1="410.33" y1="120.70" x2="410.33" y2="121.30" stroke="#333" stroke-width="0.8"/>
<line x1="407.03" y1="120.70" x2="413.63" y2="120.70" stroke="#333" stroke-width="0.8"/>
<line x1="407.03" y1="121.30" x2="413.63" y2="121.30" stroke="#333" stroke-width="0.8"/>
<rect x="423.55" y="58.20" width="13.70" height="70.90" fill="url(#hl)" stroke="#555" stroke-width="0.7"/>
<rect x="423.55" y="58.20" width="13.70" height="70.90" fill="url(#stripeD)"/>
<line x1="430.40" y1="57.20" x2="430.40" y2="59.20" stroke="#333" stroke-width="0.8"/>
<line x1="427.10" y1="57.20" x2="433.70" y2="57.20" stroke="#333" stroke-width="0.8"/>
<line x1="427.10" y1="59.20" x2="433.70" y2="59.20" stroke="#333" stroke-width="0.8"/>
<rect x="443.62" y="61.10" width="13.70" height="68.00" fill="#dd88ff" stroke="#888" stroke-width="0.7"/>
<line x1="450.47" y1="58.60" x2="450.47" y2="63.60" stroke="#333" stroke-width="0.8"/>
<line x1="447.17" y1="58.60" x2="453.77" y2="58.60" stroke="#333" stroke-width="0.8"/>
<line x1="447.17" y1="63.60" x2="453.77" y2="63.60" stroke="#333" stroke-width="0.8"/>
<line x1="319.70" y1="35.30" x2="319.70" y2="129.75" stroke="#000" stroke-width="1.3"/>
<line x1="460.30" y1="35.30" x2="460.30" y2="129.75" stroke="#000" stroke-width="1.3"/>
<line x1="319.05" y1="129.10" x2="460.95" y2="129.10" stroke="#000" stroke-width="1.3"/>
<line x1="316.50" y1="129.10" x2="319.70" y2="129.10" stroke="#000" stroke-width="1.3"/>
<text x="315.70" y="131.45" font-size="6.6" font-weight="bold" text-anchor="end" fill="#000">500</text>
<line x1="316.50" y1="97.90" x2="319.70" y2="97.90" stroke="#000" stroke-width="1.3"/>
<text x="315.70" y="100.25" font-size="6.6" font-weight="bold" text-anchor="end" fill="#000">1000</text>
<line x1="316.50" y1="66.70" x2="319.70" y2="66.70" stroke="#000" stroke-width="1.3"/>
<text x="315.70" y="69.05" font-size="6.6" font-weight="bold" text-anchor="end" fill="#000">1500</text>
<line x1="316.50" y1="35.50" x2="319.70" y2="35.50" stroke="#000" stroke-width="1.3"/>
<text x="315.70" y="37.85" font-size="6.6" font-weight="bold" text-anchor="end" fill="#000">2000</text>
<line x1="460.30" y1="43.60" x2="463.50" y2="43.60" stroke="#000" stroke-width="1.3"/>
<text x="464.60" y="45.90" font-size="6.3" font-weight="bold" text-anchor="start" fill="#000">100%</text>
<line x1="460.30" y1="83.00" x2="463.50" y2="83.00" stroke="#000" stroke-width="1.3"/>
<text x="464.60" y="85.30" font-size="6.3" font-weight="bold" text-anchor="start" fill="#000">50%</text>
<line x1="460.30" y1="121.90" x2="463.50" y2="121.90" stroke="#000" stroke-width="1.3"/>
<text x="464.60" y="124.20" font-size="6.3" font-weight="bold" text-anchor="start" fill="#000">0%</text>
<line x1="330.05" y1="129.10" x2="330.05" y2="132.30" stroke="#000" stroke-width="1.3"/>
<line x1="350.12" y1="129.10" x2="350.12" y2="132.30" stroke="#000" stroke-width="1.3"/>
<line x1="370.19" y1="129.10" x2="370.19" y2="132.30" stroke="#000" stroke-width="1.3"/>
<line x1="390.26" y1="129.10" x2="390.26" y2="132.30" stroke="#000" stroke-width="1.3"/>
<line x1="410.33" y1="129.10" x2="410.33" y2="132.30" stroke="#000" stroke-width="1.3"/>
<line x1="430.40" y1="129.10" x2="430.40" y2="132.30" stroke="#000" stroke-width="1.3"/>
<line x1="450.47" y1="129.10" x2="450.47" y2="132.30" stroke="#000" stroke-width="1.3"/>
<text x="332.55" y="138.10" font-size="7.2" font-weight="bold" text-anchor="end" fill="#000" transform="rotate(-45 332.55 138.1)">no cells</text>
<text x="352.62" y="138.10" font-size="7.2" font-weight="bold" text-anchor="end" fill="#000" transform="rotate(-45 352.62 138.1)">0.1% DMSO</text>
<text x="372.69" y="138.10" font-size="7.2" font-weight="bold" text-anchor="end" fill="#000" transform="rotate(-45 372.69 138.1)">0.1% DMSO</text>
<text x="392.76" y="138.10" font-size="7.2" font-weight="bold" text-anchor="end" fill="#000" transform="rotate(-45 392.76 138.1)">5 <tspan font-weight="normal">µ</tspan>M staurosporine</text>
<text x="412.83" y="138.10" font-size="7.2" font-weight="bold" text-anchor="end" fill="#000" transform="rotate(-45 412.83000000000004 138.1)">5 <tspan font-weight="normal">µ</tspan>M staurosporine</text>
<text x="432.90" y="138.10" font-size="7.2" font-weight="bold" text-anchor="end" fill="#000" transform="rotate(-45 432.9 138.1)">0.1 <tspan font-weight="normal">µ</tspan>M staurosporine</text>
<text x="452.97" y="138.10" font-size="7.2" font-weight="bold" text-anchor="end" fill="#000" transform="rotate(-45 452.97 138.1)">0.1 <tspan font-weight="normal">µ</tspan>M staurosporine</text>
<line x1="349.10" y1="37.00" x2="370.00" y2="37.00" stroke="#666" stroke-width="0.8"/>
<line x1="349.10" y1="36.00" x2="349.10" y2="38.00" stroke="#666" stroke-width="0.8"/>
<line x1="370.00" y1="36.00" x2="370.00" y2="38.00" stroke="#666" stroke-width="0.8"/>
<text x="359.55" y="35.40" font-size="7.3" font-weight="normal" text-anchor="middle" fill="#111">ns</text>
<line x1="389.80" y1="115.70" x2="410.70" y2="115.70" stroke="#666" stroke-width="0.8"/>
<line x1="389.80" y1="114.70" x2="389.80" y2="116.70" stroke="#666" stroke-width="0.8"/>
<line x1="410.70" y1="114.70" x2="410.70" y2="116.70" stroke="#666" stroke-width="0.8"/>
<text x="400.25" y="114.10" font-size="7.3" font-weight="normal" text-anchor="middle" fill="#111">ns</text>
<line x1="429.70" y1="52.50" x2="451.10" y2="52.50" stroke="#666" stroke-width="0.8"/>
<line x1="429.70" y1="51.50" x2="429.70" y2="53.50" stroke="#666" stroke-width="0.8"/>
<line x1="451.10" y1="51.50" x2="451.10" y2="53.50" stroke="#666" stroke-width="0.8"/>
<text x="440.40" y="50.90" font-size="7.3" font-weight="normal" text-anchor="middle" fill="#111">ns</text>
<text x="287.30" y="82.20" font-size="7.8" font-weight="normal" text-anchor="middle" fill="#000" transform="rotate(-90 287.3 82.19999999999999)">Fluorescence intensity</text>
<text x="297.50" y="82.20" font-size="7.5" font-weight="normal" text-anchor="middle" fill="#000" transform="rotate(-90 297.5 82.19999999999999)">ex. 540(15) nm, em. 590(15) nm</text>
<text x="490.50" y="82.20" font-size="7.8" font-weight="normal" text-anchor="middle" fill="#000" transform="rotate(90 490.5 82.19999999999999)">Normalized viability, %</text>
<text x="390.00" y="14.50" font-size="9.1" font-weight="bold" text-anchor="middle" fill="#000">Resazurin assay following Sytox Blue assay:</text>
<text x="390.00" y="24.50" font-size="9.1" font-weight="bold" text-anchor="middle" fill="#000">comparison of signal after 45 min</text>
<text x="271.50" y="11.80" font-size="10.3" font-weight="bold" text-anchor="start" fill="#000">B</text>
<text x="390.00" y="199.40" font-size="7.75" font-weight="bold" text-anchor="middle" fill="#000">24 h incubation in HeLa cells</text>
<text x="390.00" y="208.00" font-size="7.8" font-weight="bold" text-anchor="middle" fill="#000">(7000 cells per well)</text>
<text x="480.80" y="152.00" font-size="7.8" font-weight="normal" text-anchor="start" fill="#000">Treatment directly</text>
<text x="480.80" y="160.65" font-size="7.8" font-weight="normal" text-anchor="start" fill="#000">prior to resazurin</text>
<text x="480.80" y="169.30" font-size="7.8" font-weight="normal" text-anchor="start" fill="#000">assay:</text>
<rect x="480.10" y="182.30" width="10.8" height="5.3" fill="url(#hg)" stroke="#555" stroke-width="0.6"/>
<rect x="480.10" y="182.30" width="10.8" height="5.3" fill="url(#stripe)"/>
<rect x="480.10" y="193.30" width="10.8" height="5.3" fill="#fff" stroke="#777" stroke-width="0.7"/>
<text x="496.50" y="187.90" font-size="7.65" font-weight="normal" text-anchor="start" fill="#000">Sytox Blue</text>
<text x="496.50" y="198.90" font-size="7.65" font-weight="normal" text-anchor="start" fill="#000">PBS</text>
<line x1="323.00" y1="263.30" x2="463.60" y2="263.30" stroke="#c8c8c8" stroke-width="0.8"/>
<line x1="323.00" y1="303.40" x2="463.60" y2="303.40" stroke="#c8c8c8" stroke-width="0.8"/>
<line x1="323.00" y1="343.70" x2="463.60" y2="343.70" stroke="#c8c8c8" stroke-width="0.8"/>
<rect x="326.20" y="343.50" width="13.80" height="6.60" fill="#000" stroke="#000" stroke-width="0.7"/>
<rect x="346.23" y="263.60" width="13.80" height="86.50" fill="url(#hg)" stroke="#555" stroke-width="0.7"/>
<rect x="346.23" y="263.60" width="13.80" height="86.50" fill="url(#stripe)"/>
<line x1="353.13" y1="263.30" x2="353.13" y2="263.90" stroke="#333" stroke-width="0.8"/>
<line x1="349.83" y1="263.30" x2="356.43" y2="263.30" stroke="#333" stroke-width="0.8"/>
<line x1="349.83" y1="263.90" x2="356.43" y2="263.90" stroke="#333" stroke-width="0.8"/>
<rect x="366.26" y="263.20" width="13.80" height="86.90" fill="#fff" stroke="#777" stroke-width="0.7"/>
<line x1="373.16" y1="260.00" x2="373.16" y2="266.40" stroke="#333" stroke-width="0.8"/>
<line x1="369.86" y1="260.00" x2="376.46" y2="260.00" stroke="#333" stroke-width="0.8"/>
<line x1="369.86" y1="266.40" x2="376.46" y2="266.40" stroke="#333" stroke-width="0.8"/>
<rect x="386.29" y="342.50" width="13.80" height="7.60" fill="url(#hp)" stroke="#333" stroke-width="0.7"/>
<rect x="386.29" y="342.50" width="13.80" height="7.60" fill="url(#stripeD)"/>
<line x1="393.19" y1="342.20" x2="393.19" y2="342.80" stroke="#333" stroke-width="0.8"/>
<line x1="389.89" y1="342.20" x2="396.49" y2="342.20" stroke="#333" stroke-width="0.8"/>
<line x1="389.89" y1="342.80" x2="396.49" y2="342.80" stroke="#333" stroke-width="0.8"/>
<rect x="406.32" y="342.10" width="13.80" height="8.00" fill="#9a00f0" stroke="#555" stroke-width="0.7"/>
<line x1="413.22" y1="341.80" x2="413.22" y2="342.40" stroke="#333" stroke-width="0.8"/>
<line x1="409.92" y1="341.80" x2="416.52" y2="341.80" stroke="#333" stroke-width="0.8"/>
<line x1="409.92" y1="342.40" x2="416.52" y2="342.40" stroke="#333" stroke-width="0.8"/>
<rect x="426.35" y="282.00" width="13.80" height="68.10" fill="url(#hl)" stroke="#555" stroke-width="0.7"/>
<rect x="426.35" y="282.00" width="13.80" height="68.10" fill="url(#stripeD)"/>
<line x1="433.25" y1="279.80" x2="433.25" y2="284.20" stroke="#333" stroke-width="0.8"/>
<line x1="429.95" y1="279.80" x2="436.55" y2="279.80" stroke="#333" stroke-width="0.8"/>
<line x1="429.95" y1="284.20" x2="436.55" y2="284.20" stroke="#333" stroke-width="0.8"/>
<rect x="446.38" y="286.10" width="13.80" height="64.00" fill="#dd88ff" stroke="#888" stroke-width="0.7"/>
<line x1="453.28" y1="283.20" x2="453.28" y2="289.00" stroke="#333" stroke-width="0.8"/>
<line x1="449.98" y1="283.20" x2="456.58" y2="283.20" stroke="#333" stroke-width="0.8"/>
<line x1="449.98" y1="289.00" x2="456.58" y2="289.00" stroke="#333" stroke-width="0.8"/>
<line x1="323.00" y1="256.10" x2="323.00" y2="350.75" stroke="#000" stroke-width="1.3"/>
<line x1="463.60" y1="256.10" x2="463.60" y2="350.75" stroke="#000" stroke-width="1.3"/>
<line x1="322.35" y1="350.10" x2="464.25" y2="350.10" stroke="#000" stroke-width="1.3"/>
<line x1="319.80" y1="350.10" x2="323.00" y2="350.10" stroke="#000" stroke-width="1.3"/>
<text x="319.00" y="352.45" font-size="6.6" font-weight="bold" text-anchor="end" fill="#000">0.8</text>
<line x1="319.80" y1="329.10" x2="323.00" y2="329.10" stroke="#000" stroke-width="1.3"/>
<text x="319.00" y="331.45" font-size="6.6" font-weight="bold" text-anchor="end" fill="#000">1.0</text>
<line x1="319.80" y1="308.10" x2="323.00" y2="308.10" stroke="#000" stroke-width="1.3"/>
<text x="319.00" y="310.45" font-size="6.6" font-weight="bold" text-anchor="end" fill="#000">1.2</text>
<line x1="319.80" y1="287.10" x2="323.00" y2="287.10" stroke="#000" stroke-width="1.3"/>
<text x="319.00" y="289.45" font-size="6.6" font-weight="bold" text-anchor="end" fill="#000">1.4</text>
<line x1="319.80" y1="266.10" x2="323.00" y2="266.10" stroke="#000" stroke-width="1.3"/>
<text x="319.00" y="268.45" font-size="6.6" font-weight="bold" text-anchor="end" fill="#000">1.6</text>
<line x1="463.60" y1="263.20" x2="466.80" y2="263.20" stroke="#000" stroke-width="1.3"/>
<text x="467.90" y="265.50" font-size="6.3" font-weight="bold" text-anchor="start" fill="#000">100%</text>
<line x1="463.60" y1="303.40" x2="466.80" y2="303.40" stroke="#000" stroke-width="1.3"/>
<text x="467.90" y="305.70" font-size="6.3" font-weight="bold" text-anchor="start" fill="#000">50%</text>
<line x1="463.60" y1="343.70" x2="466.80" y2="343.70" stroke="#000" stroke-width="1.3"/>
<text x="467.90" y="346.00" font-size="6.3" font-weight="bold" text-anchor="start" fill="#000">0%</text>
<line x1="333.10" y1="350.10" x2="333.10" y2="353.30" stroke="#000" stroke-width="1.3"/>
<line x1="353.13" y1="350.10" x2="353.13" y2="353.30" stroke="#000" stroke-width="1.3"/>
<line x1="373.16" y1="350.10" x2="373.16" y2="353.30" stroke="#000" stroke-width="1.3"/>
<line x1="393.19" y1="350.10" x2="393.19" y2="353.30" stroke="#000" stroke-width="1.3"/>
<line x1="413.22" y1="350.10" x2="413.22" y2="353.30" stroke="#000" stroke-width="1.3"/>
<line x1="433.25" y1="350.10" x2="433.25" y2="353.30" stroke="#000" stroke-width="1.3"/>
<line x1="453.28" y1="350.10" x2="453.28" y2="353.30" stroke="#000" stroke-width="1.3"/>
<text x="335.60" y="359.10" font-size="7.2" font-weight="bold" text-anchor="end" fill="#000" transform="rotate(-45 335.6 359.1)">no cells</text>
<text x="355.63" y="359.10" font-size="7.2" font-weight="bold" text-anchor="end" fill="#000" transform="rotate(-45 355.63 359.1)">0.1% DMSO</text>
<text x="375.66" y="359.10" font-size="7.2" font-weight="bold" text-anchor="end" fill="#000" transform="rotate(-45 375.66 359.1)">0.1% DMSO</text>
<text x="395.69" y="359.10" font-size="7.2" font-weight="bold" text-anchor="end" fill="#000" transform="rotate(-45 395.69000000000005 359.1)">5 <tspan font-weight="normal">µ</tspan>M staurosporine</text>
<text x="415.72" y="359.10" font-size="7.2" font-weight="bold" text-anchor="end" fill="#000" transform="rotate(-45 415.72 359.1)">5 <tspan font-weight="normal">µ</tspan>M staurosporine</text>
<text x="435.75" y="359.10" font-size="7.2" font-weight="bold" text-anchor="end" fill="#000" transform="rotate(-45 435.75 359.1)">0.1 <tspan font-weight="normal">µ</tspan>M staurosporine</text>
<text x="455.78" y="359.10" font-size="7.2" font-weight="bold" text-anchor="end" fill="#000" transform="rotate(-45 455.78000000000003 359.1)">0.1 <tspan font-weight="normal">µ</tspan>M staurosporine</text>
<line x1="352.30" y1="256.80" x2="373.20" y2="256.80" stroke="#666" stroke-width="0.8"/>
<line x1="352.30" y1="255.80" x2="352.30" y2="257.80" stroke="#666" stroke-width="0.8"/>
<line x1="373.20" y1="255.80" x2="373.20" y2="257.80" stroke="#666" stroke-width="0.8"/>
<text x="362.75" y="255.20" font-size="7.3" font-weight="normal" text-anchor="middle" fill="#111">ns</text>
<line x1="393.20" y1="337.30" x2="414.10" y2="337.30" stroke="#666" stroke-width="0.8"/>
<line x1="393.20" y1="336.30" x2="393.20" y2="338.30" stroke="#666" stroke-width="0.8"/>
<line x1="414.10" y1="336.30" x2="414.10" y2="338.30" stroke="#666" stroke-width="0.8"/>
<text x="403.65" y="335.70" font-size="7.3" font-weight="normal" text-anchor="middle" fill="#111">ns</text>
<line x1="433.10" y1="275.50" x2="454.90" y2="275.50" stroke="#666" stroke-width="0.8"/>
<line x1="433.10" y1="274.50" x2="433.10" y2="276.50" stroke="#666" stroke-width="0.8"/>
<line x1="454.90" y1="274.50" x2="454.90" y2="276.50" stroke="#666" stroke-width="0.8"/>
<text x="444.00" y="273.90" font-size="7.3" font-weight="normal" text-anchor="middle" fill="#111">ns</text>
<text x="297.00" y="303.10" font-size="7.9" font-weight="normal" text-anchor="middle" fill="#000" transform="rotate(-90 297.0 303.1)">Absorbance ratio,</text>
<text x="305.50" y="303.10" font-size="7.75" font-weight="normal" text-anchor="middle" fill="#000" transform="rotate(-90 305.5 303.1)">570 nm / 600 nm</text>
<text x="493.50" y="303.10" font-size="7.8" font-weight="normal" text-anchor="middle" fill="#000" transform="rotate(90 493.5 303.1)">Normalized viability, %</text>
<text x="393.50" y="234.60" font-size="9.1" font-weight="bold" text-anchor="middle" fill="#000">Resazurin assay following Sytox Blue assay:</text>
<text x="393.50" y="244.60" font-size="9.1" font-weight="bold" text-anchor="middle" fill="#000">comparison of signal after 60 min</text>
<text x="270.90" y="232.80" font-size="10.3" font-weight="bold" text-anchor="start" fill="#000">D</text>
<text x="393.50" y="420.80" font-size="7.75" font-weight="bold" text-anchor="middle" fill="#000">24 h incubation in HeLa cells</text>
<text x="393.50" y="429.40" font-size="7.8" font-weight="bold" text-anchor="middle" fill="#000">(7000 cells per well)</text>
<text x="480.80" y="380.80" font-size="7.8" font-weight="normal" text-anchor="start" fill="#000">Treatment directly</text>
<text x="480.80" y="389.45" font-size="7.8" font-weight="normal" text-anchor="start" fill="#000">prior to resazurin</text>
<text x="480.80" y="398.10" font-size="7.8" font-weight="normal" text-anchor="start" fill="#000">assay:</text>
<rect x="483.20" y="409.50" width="10.8" height="5.3" fill="url(#hg)" stroke="#555" stroke-width="0.6"/>
<rect x="483.20" y="409.50" width="10.8" height="5.3" fill="url(#stripe)"/>
<rect x="483.20" y="420.50" width="10.8" height="5.3" fill="#fff" stroke="#777" stroke-width="0.7"/>
<text x="499.60" y="415.10" font-size="7.65" font-weight="normal" text-anchor="start" fill="#000">Sytox Blue</text>
<text x="499.60" y="426.10" font-size="7.65" font-weight="normal" text-anchor="start" fill="#000">PBS</text>
</svg>
</body></html>
